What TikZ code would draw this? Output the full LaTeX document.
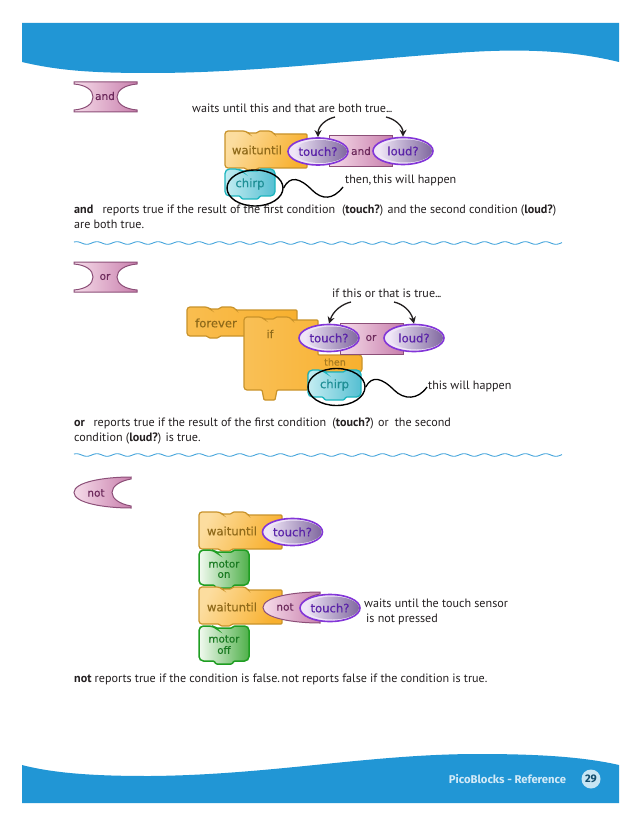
\documentclass[tikz,border=0pt]{standalone}
\usepackage{fontspec}
\setmainfont{PT Sans}
\newfontfamily\blockfont[FakeBold=0.35]{DejaVu Sans}
\newfontfamily\footfont{Fira Sans}
\usetikzlibrary{shapes.geometric,arrows.meta}
\definecolor{bandblue}{HTML}{2196D5}
\definecolor{wavecol}{HTML}{45A5DC}
\definecolor{orL}{HTML}{FCDD9F}\definecolor{orR}{HTML}{F8B02E}\definecolor{orB}{HTML}{C9932B}\definecolor{orT}{HTML}{8F6A1A}
\definecolor{piL}{HTML}{F6DCEA}\definecolor{piR}{HTML}{C87FAC}\definecolor{piB}{HTML}{8C4F78}\definecolor{piT}{HTML}{6D2A5C}
\definecolor{puB}{HTML}{8336D8}\definecolor{puL}{HTML}{EFE6F7}\definecolor{puR}{HTML}{80689F}\definecolor{puT}{HTML}{5A23A8}
\definecolor{cyL}{HTML}{C4EDF2}\definecolor{cyR}{HTML}{55BFD2}\definecolor{cyB}{HTML}{1CB5BE}\definecolor{cyT}{HTML}{1F8F96}
\definecolor{grL}{HTML}{F2FAF0}\definecolor{grR}{HTML}{4FB04A}\definecolor{grB}{HTML}{1F9E22}\definecolor{grT}{HTML}{1A7A22}
\definecolor{inkc}{HTML}{231F20}
\tikzset{
  x=1pt,y=-1pt,
  band/.style={fill=bandblue,draw=none},
  wavy/.style={draw=wavecol,line width=0.9pt},
  orblock/.style={left color=orL,right color=orR,shading angle=65,draw=orB,line width=1.2pt,rounded corners=3pt},
  ifblock/.style={left color=orR!65!orL,right color=orR,draw=orB,line width=1.2pt,rounded corners=3pt},
  piblock/.style={left color=piL,right color=piR,draw=piB,line width=1pt},
  cyblock/.style={left color=cyL,right color=cyR,draw=cyB,line width=1.3pt,rounded corners=4.5pt},
  grblock/.style={left color=grL,right color=grR,draw=grB,line width=1.5pt,rounded corners=4.5pt},
  predouter/.style={ellipse,minimum width=60pt,minimum height=27pt,inner sep=0pt,fill=puL,draw=puB,line width=1.6pt},
  predinner/.style={ellipse,minimum width=53pt,minimum height=23pt,inner sep=0pt,left color=puL,right color=puR,draw=none},
  ringc/.style={ellipse,draw=black,line width=1.4pt,inner sep=0pt},
  squig/.style={draw=black,line width=1.3pt},
  curvearrow/.style={draw=inkc,line width=1.3pt,-{Stealth[length=7pt,width=7pt]}},
  body/.style={anchor=base west,inner sep=0pt,text=inkc,font=\fontsize{12.1}{14}\selectfont},
  lab/.style={inner sep=0pt,font=\blockfont\fontsize{#1}{11}\selectfont},
  lab/.default=11,
}
\newcommand{\orpath}[2]{(0,#2) -- (0,0) -- (21,0) [rounded corners=1pt] -- (23,2) -- (32,2) -- (34,0) [rounded corners=3pt] -- (47,0) [rounded corners=1pt] -- (49,3) -- (#1,3) -- (#1,#2) -- (33,#2) -- (31,#2+2) -- (22,#2+2) -- (20,#2) [rounded corners=3pt] -- cycle}
\newcommand{\stackpath}[2]{(0,#2) -- (0,0) -- (15,0) [rounded corners=1pt] -- (17,2) -- (#1-17,2) -- (#1-15,0) [rounded corners=4.5pt] -- (#1,0) -- (#1,#2) [rounded corners=1pt] -- (#1-15,#2) -- (#1-17,#2+3) -- (17,#2+3) -- (15,#2) [rounded corners=4.5pt] -- cycle}
\newcommand{\concave}{(0,0) -- (63,0) -- (63,2) .. controls (51,3) and (43,8) .. (43,15) .. controls (43,22) and (51,27) .. (63,28) -- (63,30) -- (0,30) -- (0,28) .. controls (12,27) and (19,22) .. (19,15) .. controls (19,8) and (12,3) .. (0,2) -- cycle}
\newcommand{\notshape}{(57,0) .. controls (30,0) and (0,5) .. (0,15.5) .. controls (0,26) and (30,31) .. (57,31) -- (57,29) .. controls (46,27) and (38,22) .. (38,15.5) .. controls (38,9) and (46,4) .. (57,2) -- cycle}
% \pred{name}{x}{y}{text}
\newcommand{\pred}[4]{%
  \node[predouter] (#1) at (#2,#3) {};
  \node[predinner] (#1in) at (#2+2.5,#3) {};
  \node[lab=11.6,text=puT] (#1t) at (#2,#3) {#4};
}
\begin{document}
\begin{tikzpicture}
\useasboundingbox (0,0) rectangle (638,826);
\fill[white] (0,0) rectangle (638,826);
% header / footer bands
\path[band] (22,23) -- (619,23) -- (619,62) .. controls (570,50) and (520,49) .. (470,52) .. controls (370,58) and (260,73) .. (150,73) .. controls (95,73) and (60,71) .. (22,62) -- cycle;
\path[band] (22,765) .. controls (60,775) and (110,776) .. (150,776) .. controls (270,775) and (370,754) .. (478,754) .. controls (530,754) and (580,756) .. (619,765) -- (619,803) -- (22,803) -- cycle;
\node[inner sep=0pt,text=white!80!bandblue,font=\footfont\bfseries\fontsize{11.3}{14}\selectfont] (foot) at (507.5,779) {PicoBlocks - Reference};
\node[circle,fill=white!75!bandblue,minimum size=19pt,inner sep=0pt,font=\footfont\bfseries\fontsize{11}{12}\selectfont,text=bandblue!50!black] (pagenum) at (591,779) {29};

%% AND section
\path[piblock,shift={(74,82)}] \concave;
\node[lab=10.5,text=piT] (andhead) at (105,96) {and};
\node[body] (t1) at (192,113) {waits until this and that are both true.\kern-0.7pt.\kern-0.7pt.};
\path[orblock,shift={(225,131)}] \orpath{82}{37};
\node[lab=11.6,text=orT] (wu1) at (257,150) {waituntil};
\path[piblock,shift={(329,136)}] (0,0) rectangle (63,31);
\node[lab=10.5,text=piT] (and1) at (361,151) {and};
\pred{touchA}{318}{151.5}{touch?}
\pred{loudA}{403}{151}{loud?}
\path[cyblock,shift={(225,169)}] \stackpath{50}{27};
\node[lab=11.6,text=cyT] (chirpA) at (250,184) {chirp};
\node[ringc,minimum width=56pt,minimum height=36pt] (ringA) at (255,188) {};
\node[body] (t2) at (345,184) {then,\kern-1.5pt\ this will happen};
\coordinate (sqA) at (343,187);
\coordinate (arA1) at (335,117);
\coordinate (arA2) at (386,117);
\draw[squig] (ringA.east) .. controls (290,175) and (300,178) .. (312,190) .. controls (322,200) and (333,200) .. (sqA);
\draw[curvearrow] (arA1) .. controls (326,119) and (318,126) .. (touchA.north);
\draw[curvearrow] (arA2) .. controls (395,119) and (403,126) .. (loudA.north);
\node[body] (b1) at (74,214) {\textbf{and}\hspace{0.5em} reports true if the result of the first condition\hspace{0.3em} (\textbf{touch?}) and the second condition (\textbf{loud?})};
\node[body] (b2) at (74,229) {are both true.};
\draw[wavy] plot[domain=74:562,samples=400] (\x,{243+1.3*sin(\x/20.4*360)});

%% OR section
\path[piblock,shift={(74,262)}] \concave;
\node[lab=10.5,text=piT] (orhead) at (105,277) {or};
\node[body] (t3) at (332,297) {if this or that is true.\kern-0.7pt.\kern-0.7pt.};
\path[orblock,shift={(187,307)},left color=orR!70!orL,right color=orR] \orpath{110}{29};
\node[lab=11.6,text=orT] (forever) at (216,323) {forever};
\path[ifblock] (244,390) -- (244,317) -- (262,317) [rounded corners=1pt] -- (264,319) -- (274,319) -- (276,317) [rounded corners=3pt] -- (290,317) [rounded corners=1pt] -- (292,320) -- (318,320) -- (318,355) [rounded corners=3pt] -- (362,355) -- (362,372) [rounded corners=1pt] -- (308,372) -- (308,390) -- (277,390) -- (275,400) -- (264,400) -- (262,390) [rounded corners=3pt] -- cycle;
\node[lab=11,text=orT] (iflab) at (270,334) {if};
\node[lab=9.5,text=orT!60!orB] (thenlab) at (335,362) {then};
\path[piblock,shift={(340,323)}] (0,0) rectangle (63,31);
\node[lab=10.5,text=piT] (or1) at (371,338) {or};
\pred{touchB}{329}{338}{touch?}
\pred{loudB}{414}{338}{loud?}
\path[cyblock,shift={(308,370)}] \stackpath{53}{27};
\node[lab=11.6,text=cyT] (chirpB) at (334.5,385) {chirp};
\node[ringc,minimum width=57pt,minimum height=37pt] (ringB) at (336.5,387) {};
\node[body] (t4) at (428,389) {this will happen};
\coordinate (sqB) at (427,387);
\coordinate (arB1) at (351,302);
\coordinate (arB2) at (394,302);
\draw[squig] (ringB.east) .. controls (372,375) and (382,378) .. (394,390) .. controls (404,400) and (418,400) .. (sqB);
\draw[curvearrow] (arB1) .. controls (342,304) and (333,311) .. (touchB.north);
\draw[curvearrow] (arB2) .. controls (403,304) and (411,311) .. (loudB.north);
\node[body] (b3) at (74,426) {\textbf{or}\hspace{0.45em} reports true if the result of the first condition\hspace{0.25em} (\textbf{touch?}) or\hspace{0.25em} the second};
\node[body] (b4) at (74,441) {condition (\textbf{loud?}) is true.};
\draw[wavy] plot[domain=74:562,samples=400] (\x,{455+1.3*sin(\x/20.4*360)});

%% NOT section
\path[piblock,shift={(74,477)}] \notshape;
\node[lab=10.5,text=piT] (nothead) at (96,493) {not};
\path[orblock,shift={(199,512)}] \orpath{83}{37};
\node[lab=11.6,text=orT] (wu2) at (232,531) {waituntil};
\pred{touchC}{292.5}{532}{touch?}
\path[grblock,shift={(199,550)}] \stackpath{50}{35};
\node[lab=10.3,text=grT] (mon1) at (224,564) {motor};
\node[lab=10.3,text=grT] (mon2) at (224,575) {on};
\path[orblock,shift={(199,587)}] \orpath{83}{37};
\node[lab=11.6,text=orT] (wu3) at (232,607) {waituntil};
\path[piblock,shift={(263,592)}] \notshape;
\node[lab=10.5,text=piT] (not1) at (285,607) {not};
\pred{touchD}{330}{608}{touch?}
\node[body] (t5) at (364,607) {waits until the touch sensor};
\node[body] (t6) at (366,622) {is not pressed};
\path[grblock,shift={(199,626)}] \stackpath{50}{35};
\node[lab=10.3,text=grT] (moff1) at (224,639) {motor};
\node[lab=10.3,text=grT] (moff2) at (224,650) {off};
\node[body] (b5) at (74,682) {\textbf{not} reports true if the condition is false.\kern-1.5pt\ not reports false if the condition is true.};
\end{tikzpicture}
\end{document}
